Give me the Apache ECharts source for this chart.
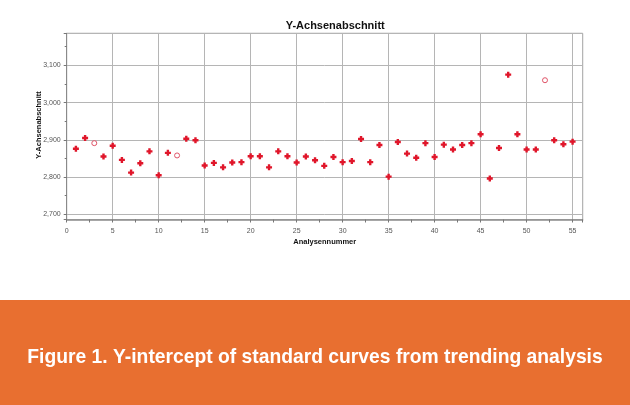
<!DOCTYPE html>
<html>
<head>
<meta charset="utf-8">
<script src="https://cdn.jsdelivr.net/npm/echarts@6/dist/echarts.min.js"></script>
<style>
  html, body { margin: 0; padding: 0; background: #ffffff; }
  #chart { width: 630px; height: 405px; }
</style>
</head>
<body>
<div id="chart"></div>
<script>
// ---- data ----
const chartTitle = 'Y-Achsenabschnitt';
const xAxisName = 'Analysennummer';
const yAxisName = 'Y-Achsenabschnitt';
const caption = 'Figure 1. Y-intercept of standard curves from trending analysis';

const runs = [1,2,3,4,5,6,7,8,9,10,11,12,13,14,15,16,17,18,19,20,21,22,23,24,25,26,27,28,29,30,31,32,33,34,35,36,37,38,39,40,41,42,43,44,45,46,47,48,49,50,51,52,53,54,55];
// regular results (null where the run is flagged)
const intercepts = [2876,2905,null,2855,2884,2846,2812,2837,2869,2805,2865,null,2903,2899,2831,2838,2826,2839,2840,2856,2856,2826,2869,2856,2839,2855,2845,2830,2854,2840,2843,2902,2840,2886,2801,2894,2863,2852,2891,2854,2887,2874,2886,2891,2915,2796,2878,3075,2915,2874,2874,null,2899,2888,2895];
// flagged results (open circles)
const flaggedRuns = [3, 12, 52];
const flaggedIntercepts = [2891, 2858, 3060];

const xTicks = [0,5,10,15,20,25,30,35,40,45,50,55];
const yTicks = [2700,2800,2900,3000,3100];

const regularData = [];
runs.forEach((r, i) => { if (intercepts[i] !== null) regularData.push([r, intercepts[i]]); });
const flaggedData = flaggedRuns.map((r, i) => [r, flaggedIntercepts[i]]);

const plusPath = 'path://M3,0 L7,0 L7,3 L10,3 L10,7 L7,7 L7,10 L3,10 L3,7 L0,7 L0,3 L3,3 Z';

const chart = echarts.init(document.getElementById('chart'), null, { renderer: 'canvas' });
const labelFont = 'Liberation Sans, Arial, sans-serif';

chart.setOption({
  backgroundColor: '#ffffff',
  animation: false,
  grid: {
    left: 66.7, right: 47.3, top: 33.3, bottom: 185.5,
    show: true, borderColor: '#9a9a9a', borderWidth: 1, backgroundColor: 'transparent'
  },
  xAxis: {
    type: 'value', min: 0, max: 56.1, interval: 5,
    name: xAxisName, nameLocation: 'middle', nameGap: 18,
    nameTextStyle: { fontFamily: labelFont, fontWeight: 'bold', fontSize: 7.5, color: '#111' },
    axisLine: { show: true, lineStyle: { color: '#8a8a8a', width: 1.5 } },
    axisTick: { show: true, length: 3, lineStyle: { color: '#777' } },
    minorTick: { show: true, splitNumber: 2, length: 3, lineStyle: { color: '#777' } },
    axisLabel: {
      show: true, margin: 8, fontSize: 7, color: '#555', fontFamily: labelFont,
      showMaxLabel: false,
      formatter: v => (xTicks.indexOf(v) >= 0 ? String(v) : '')
    },
    splitLine: { show: true, lineStyle: { color: '#b5b5b5', width: 1 } }
  },
  yAxis: {
    type: 'value', min: 2686, max: 3186, splitNumber: 5,
    axisLine: { show: true, lineStyle: { color: '#8a8a8a', width: 1 } },
    axisTick: { show: true, length: 3, lineStyle: { color: '#777' } },
    minorTick: { show: true, splitNumber: 2, length: 2, lineStyle: { color: '#777' } },
    axisLabel: {
      show: true, margin: 6, fontSize: 7, color: '#555', fontFamily: labelFont,
      showMinLabel: false, showMaxLabel: false,
      formatter: v => (yTicks.indexOf(v) >= 0 ? v.toLocaleString('en-US') : '')
    },
    splitLine: { show: true, lineStyle: { color: '#b5b5b5', width: 1 } }
  },
  graphic: [
    {
      type: 'text', left: 335.7 - 50, top: 20,
      style: { text: chartTitle, x: 0, y: 0, font: 'bold 11px Liberation Sans, Arial, sans-serif', fill: '#111' },
      silent: true
    },
    {
      type: 'text', x: 38.7, y: 125, rotation: Math.PI / 2,
      style: {
        text: yAxisName, align: 'center', verticalAlign: 'middle',
        font: 'bold 7.5px Liberation Sans, Arial, sans-serif', fill: '#111'
      },
      silent: true
    },
    {
      type: 'rect', shape: { x: 0, y: 300, width: 630, height: 105 },
      style: { fill: '#e86f30' }, silent: true, z: -1
    },
    {
      type: 'text', x: 315, y: 358,
      style: {
        text: caption, align: 'center', verticalAlign: 'middle',
        font: 'bold 19.3px "Liberation Sans Narrow", "Liberation Sans", Arial, sans-serif',
        fill: '#ffffff'
      },
      silent: true
    }
  ],
  series: [
    {
      name: 'Ergebnis', type: 'scatter', data: regularData,
      symbol: plusPath, symbolSize: 6,
      itemStyle: { color: '#e0162a', opacity: 1 }
    },
    {
      name: 'Markiert', type: 'scatter', data: flaggedData,
      symbol: 'circle', symbolSize: 5,
      z: 3,
      itemStyle: { color: '#ffffff', borderColor: '#e05468', borderWidth: 1, opacity: 1 }
    }
  ]
});
</script>
</body>
</html>
